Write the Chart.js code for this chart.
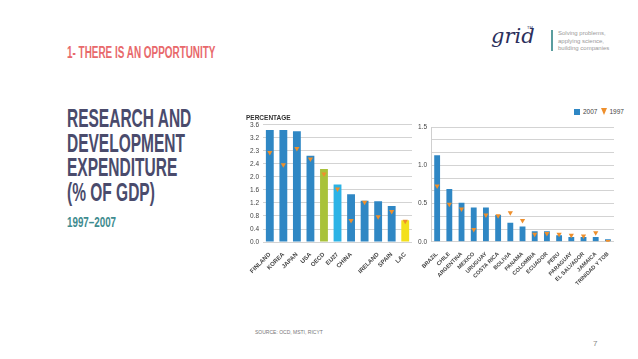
<!DOCTYPE html>
<html>
<head>
<meta charset="utf-8">
<script src="https://cdn.jsdelivr.net/npm/chart.js@4"></script>
<style>
  html, body { margin: 0; padding: 0; background: #fff; }
  body { width: 638px; height: 359px; position: relative; overflow: hidden; font-family: 'Liberation Sans', sans-serif; }
  .abs { position: absolute; white-space: nowrap; }
  #kicker { left: 67px; top: 45px; font: bold 16px/16px 'Liberation Sans'; color: #e8696b; transform-origin: 0 0; transform: scaleX(0.62); }
  #heading { left: 67px; top: 106px; font: bold 25px/24.5px 'Liberation Sans'; color: #4a4b6c; transform-origin: 0 0; transform: scaleX(0.62); }
  #years { left: 67px; top: 215px; font: bold 14px/14px 'Liberation Sans'; color: #3f8c8f; transform-origin: 0 0; transform: scaleX(0.7); }
  #logo { left: 491px; top: 24px; font: italic 21px 'DejaVu Serif'; color: #2b2f5c; }
  #tm { left: 527px; top: 25px; font: 4px 'Liberation Sans'; color: #2b2f5c; }
  #bar { left: 551px; top: 30px; width: 1.5px; height: 21px; background: #5a9d9e; }
  #tag { left: 558px; top: 30px; font: 6px/7.5px 'Liberation Sans'; color: #9a9a9a; }
  #source { left: 255px; top: 329px; font: 5px 'Liberation Sans'; color: #777; }
  #page { left: 593px; top: 339px; font: 8px 'Liberation Sans'; color: #888; }
  #legend { left: 574px; top: 108px; font: 6.5px 'Liberation Sans'; color: #444; }
  #legend .sq { display: inline-block; width: 6px; height: 6px; background: #2f87c4; vertical-align: -1px; margin-right: 3px; }
  #legend .tri { display: inline-block; width: 0; height: 0; border-left: 3.5px solid transparent; border-right: 3.5px solid transparent; border-top: 7px solid #ee8f2c; vertical-align: -1px; margin: 0 2px 0 4px; }
  canvas { position: absolute; }
</style>
</head>
<body>
<div id="kicker" class="abs">1- THERE IS AN OPPORTUNITY</div>
<div id="heading" class="abs">RESEARCH AND<br>DEVELOPMENT<br>EXPENDITURE<br>(% OF GDP)</div>
<div id="years" class="abs">1997–2007</div>
<div id="logo" class="abs">grid</div>
<div id="tm" class="abs">TM</div>
<div id="bar" class="abs"></div>
<div id="tag" class="abs">Solving problems,<br>applying science,<br>building companies</div>
<div id="legend" class="abs"><span class="sq"></span>2007<span class="tri"></span>1997</div>
<div id="source" class="abs">SOURCE: OCD, MSTI, RICYT</div>
<div id="page" class="abs">7</div>

<canvas id="leftChart" width="170" height="166" style="left:246px;top:110px"></canvas>
<canvas id="rightChart" width="204" height="176" style="left:414px;top:112px"></canvas>

<script>
const leftCategories = ['FINLAND', 'KOREA', 'JAPAN', 'USA', 'OECD', 'EU27', 'CHINA', '', 'IRELAND', 'SPAIN', 'LAC'];
const left2007 = [3.44, 3.44, 3.40, 2.65, 2.24, 1.77, 1.47, 1.27, 1.25, 1.11, 0.67];
const left1997 = [2.75, 2.37, 2.87, 2.55, 2.09, 1.63, 0.66, 1.22, 0.78, 0.94, 0.64];
const leftTickLabels = ['0.0', '0.4', '0.8', '1.2', '1.6', '2.0', '2.4', '2.3', '3.2', '3.6'];

const rightCategories = ['BRAZIL', 'CHILE', 'ARGENTINA', 'MEXICO', 'URUGUAY', 'COSTA RICA', 'BOLIVIA', 'PANAMA',
  'COLOMBIA', 'ECUADOR', 'PERU', 'PARAGUAY', 'EL SALVADOR', 'JAMAICA', 'TRINIDAD Y TOB'];
const right2007 = [1.13, 0.69, 0.51, 0.45, 0.45, 0.35, 0.25, 0.20, 0.14, 0.14, 0.086, 0.065, 0.065, 0.065, 0.035];
const right1997 = [0.73, 0.49, 0.43, 0.16, 0.35, 0.34, 0.38, 0.28, 0.10, 0.11, 0.10, 0.086, 0.078, 0.12, 0.005];
const rightTickLabels = ['0.0', '0.5', '1.0', '1.5'];

const blue = '#2f87c4';
const orange = '#ee8f2c';
const leftColors = [blue, blue, blue, blue, '#a9c23a', '#2cb3e6', blue, blue, blue, blue, '#f3e01c'];

const tickFont = { family: 'Liberation Sans', size: 6.5 };

function markers(data) {
  return {
    type: 'line', label: '1997', data: data, showLine: false,
    pointStyle: 'triangle', rotation: 180, pointRadius: 3,
    backgroundColor: orange, borderColor: orange, borderWidth: 0, order: 0
  };
}

new Chart(document.getElementById('leftChart'), {
  type: 'bar',
  data: {
    labels: leftCategories,
    datasets: [
      markers(left1997),
      { label: '2007', data: left2007, backgroundColor: leftColors, barPercentage: 0.58, categoryPercentage: 1, order: 1 }
    ]
  },
  options: {
    responsive: false,
    animation: false,
    layout: { padding: { right: 4 } },
    plugins: {
      legend: { display: false },
      tooltip: { enabled: false },
      title: { display: true, text: 'PERCENTAGE', align: 'start', color: '#333',
        font: { family: 'Liberation Sans', size: 6.5, weight: 'bold' }, padding: { top: 4, bottom: 3 } }
    },
    scales: {
      x: {
        grid: { display: false },
        border: { display: false },
        ticks: { color: '#444', font: { family: 'Liberation Sans', size: 6, weight: 'bold' },
          minRotation: 45, maxRotation: 45, autoSkip: false, padding: 1 }
      },
      y: {
        min: 0, max: 3.6,
        grid: { color: '#d3d3d3', lineWidth: 1, drawTicks: false },
        border: { display: false },
        ticks: { stepSize: 0.4, color: '#444', font: tickFont, padding: 4,
          callback: (v, i) => leftTickLabels[i] }
      }
    }
  }
});

new Chart(document.getElementById('rightChart'), {
  type: 'bar',
  data: {
    labels: rightCategories,
    datasets: [
      markers(right1997),
      { label: '2007', data: right2007, backgroundColor: blue, barPercentage: 0.48, categoryPercentage: 1, order: 1 }
    ]
  },
  options: {
    responsive: false,
    animation: false,
    layout: { padding: { top: 15 } },
    plugins: { legend: { display: false }, tooltip: { enabled: false } },
    scales: {
      x: {
        grid: { display: false },
        border: { display: false },
        ticks: { color: '#444', font: { family: 'Liberation Sans', size: 5.5, weight: 'bold' },
          minRotation: 45, maxRotation: 45, autoSkip: false, padding: 1 }
      },
      y: {
        min: 0, max: 1.5,
        grid: { color: '#d3d3d3', lineWidth: 1, drawTicks: false },
        border: { display: true, color: '#cfcfcf' },
        ticks: { count: 10, color: '#444', font: tickFont, padding: 4, autoSkip: false,
          callback: (v, i) => (i % 3 === 0 ? rightTickLabels[i / 3] : '') }
      }
    }
  }
});
</script>
</body>
</html>
